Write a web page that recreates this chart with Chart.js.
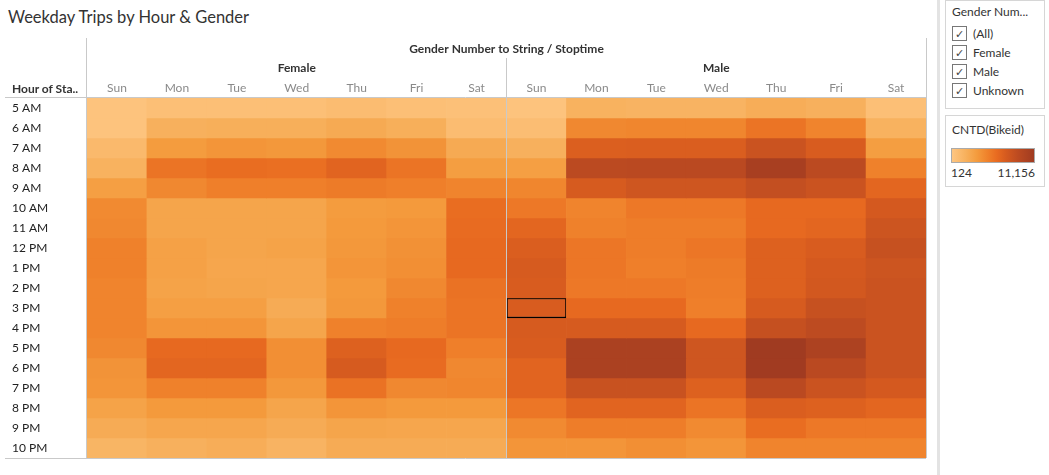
<!DOCTYPE html>
<html>
<head>
<meta charset="utf-8">
<script src="https://cdn.jsdelivr.net/npm/chart.js@4.4.1/dist/chart.umd.min.js"></script>
<style>
body{margin:0;width:1049px;height:475px;overflow:hidden;background:#fff;font-family:Lato,"Open Sans",sans-serif;color:#333;position:relative}
#title{position:absolute;left:8px;top:7px;font-size:16.5px;color:#333}
#wrap{position:absolute;left:0;top:0;width:935px;height:475px}
#hourHead{position:absolute;left:12px;top:81px;font-size:12px;font-weight:bold;color:#333}
#sep{position:absolute;left:937px;top:0;width:3px;height:475px;background:#e3e3e3}
.box{position:absolute;left:945px;width:98px;border:1px solid #d6d6d6;background:#fff;font-size:12px}
.box .hd{padding:3px 0 0 6px;height:20px;color:#333}
.chk{height:19px;display:flex;align-items:center;padding-left:6px}
.chk span.b{display:inline-block;width:13px;height:13px;border:1px solid #777;font-size:11px;line-height:13px;text-align:center;margin-right:6px;color:#444}
#grad{margin:6px 0 0 5px;width:82px;height:13px;border:1px solid #aaa}
#legLab{display:flex;justify-content:space-between;width:84px;margin-left:5px;font-size:12px;margin-top:2px}
</style>
</head>
<body>
<div id="title">Weekday Trips by Hour &amp; Gender</div>
<div id="wrap"><canvas id="c"></canvas></div>
<div id="hourHead">Hour of Sta..</div>
<div id="sep"></div>
<div class="box" style="top:0;height:107px">
  <div class="hd">Gender Num...</div>
  <div id="filters"></div>
</div>
<div class="box" style="top:115px;height:70px">
  <div class="hd" style="padding-top:6px">CNTD(Bikeid)</div>
  <div id="grad"></div>
  <div id="legLab"><span id="lmin"></span><span id="lmax"></span></div>
</div>
<script>
const hours = ['5 AM','6 AM','7 AM','8 AM','9 AM','10 AM','11 AM','12 PM','1 PM','2 PM','3 PM','4 PM','5 PM','6 PM','7 PM','8 PM','9 PM','10 PM']
const days = ['Sun','Mon','Tue','Wed','Thu','Fri','Sat']
const genders = ['Female','Male']
const filterItems = ['(All)','Female','Male','Unknown']

// distinct bikes per hour, Sun..Sat
const femaleTrips = [
	[370, 740, 740, 740, 980, 740, 610],
	[370, 1960, 2090, 2090, 2450, 2090, 980],
	[1230, 3430, 3800, 3680, 4410, 3920, 2450],
	[1840, 5640, 6010, 5890, 6620, 5640, 3310],
	[3190, 4540, 5030, 5030, 5270, 5030, 4780],
	[4410, 2820, 2820, 2820, 3430, 3560, 6010],
	[4540, 2820, 2820, 2820, 3560, 3800, 6130],
	[4900, 3070, 2820, 2940, 3680, 4050, 6250],
	[4900, 3070, 2700, 2700, 3800, 4170, 6250],
	[4780, 2940, 2820, 2700, 3560, 4540, 5760],
	[4780, 3190, 3190, 2330, 3680, 4900, 5640],
	[4780, 3800, 3800, 2820, 4900, 5150, 5640],
	[4540, 6250, 6250, 4170, 6870, 6250, 5030],
	[3920, 6500, 6500, 4170, 7360, 6130, 4540],
	[3800, 4900, 4900, 3680, 5760, 4540, 4660],
	[2940, 3560, 3560, 2820, 3800, 3560, 3560],
	[2330, 2700, 2700, 2330, 2820, 2700, 2700],
	[1600, 1960, 2210, 1720, 2330, 2330, 2330],
]
const maleTrips = [
	[370, 1840, 1720, 1720, 2210, 1960, 740],
	[860, 4540, 4660, 4660, 5640, 4780, 1840],
	[1960, 6990, 7110, 7110, 8090, 7230, 3310],
	[3190, 9070, 9200, 9200, 10540, 9070, 4900],
	[4660, 7360, 7850, 7850, 8580, 8090, 6500],
	[5400, 4780, 5400, 5400, 6250, 6250, 7480],
	[6500, 4900, 5150, 5150, 6250, 6500, 7970],
	[7110, 5520, 5150, 5520, 6870, 7230, 8340],
	[7360, 5520, 5030, 5270, 6870, 7480, 7970],
	[7230, 5400, 5400, 5150, 6870, 7600, 8090],
	[7230, 6250, 6250, 5030, 7360, 8340, 8090],
	[7360, 7360, 7360, 6250, 8460, 8950, 8090],
	[7230, 10300, 10300, 7850, 11156, 10180, 8090],
	[6620, 10300, 10300, 7850, 11100, 9200, 8090],
	[6620, 8210, 8210, 6870, 9200, 8090, 7480],
	[5520, 6620, 6620, 5640, 7110, 6870, 6500],
	[4410, 5150, 5150, 4410, 6010, 5400, 5400],
	[3800, 3800, 4170, 3800, 4780, 4780, 4780],
]
const legendMin = 124
const legendMax = 11156
const selected = { gender: 'Male', day: 'Sun', hour: '3 PM' }

const stops = [
	[0, [254, 198, 130]],
	[0.17, [247, 176, 92]],
	[0.3, [244, 156, 62]],
	[0.44, [239, 128, 42]],
	[0.55, [232, 106, 32]],
	[0.66, [213, 90, 31]],
	[0.8, [189, 75, 33]],
	[1, [160, 59, 33]],
]

function countColor(v) {
	const t = Math.max(0, Math.min(1, (v - legendMin) / (legendMax - legendMin)))
	let i = 0
	while (i < stops.length - 2 && t > stops[i + 1][0]) i++
	const [t0, c0] = stops[i]
	const [t1, c1] = stops[i + 1]
	const f = (t - t0) / (t1 - t0)
	const c = c0.map((a, k) => Math.round(a + (c1[k] - a) * f))
	return `rgb(${c[0]},${c[1]},${c[2]})`
}

// side panel
document.getElementById('filters').innerHTML = filterItems
	.map((f) => `<div class="chk"><span class="b">✓</span>${f}</div>`)
	.join('')
document.getElementById('grad').style.background =
	'linear-gradient(to right,' + stops.map(([t]) => countColor(legendMin + t * (legendMax - legendMin)) + ' ' + t * 100 + '%').join(',') + ')'
document.getElementById('lmin').textContent = legendMin.toLocaleString('en-US')
document.getElementById('lmax').textContent = legendMax.toLocaleString('en-US')

const columns = genders.flatMap((g) => days.map((d) => ({ g, d })))

const datasets = hours.map((h, i) => {
	const row = femaleTrips[i].concat(maleTrips[i])
	return {
		label: h,
		data: row.map(() => 1),
		backgroundColor: row.map(countColor),
		borderColor: '#000',
		borderWidth: row.map((_, j) =>
			h === selected.hour && columns[j].g === selected.gender && columns[j].d === selected.day ? 1.5 : 0),
		borderSkipped: false,
	}
})

const framePlugin = {
	id: 'frame',
	afterDatasetsDraw(chart) {
		const { ctx, chartArea: a, scales } = chart
		const px = (v) => Math.round(v) - 0.5
		const mid = (scales.x.getPixelForValue(6) + scales.x.getPixelForValue(7)) / 2
		const top = scales.gender.top
		ctx.save()
		ctx.strokeStyle = '#c9c9c9'
		ctx.lineWidth = 1
		const line = (x1, y1, x2, y2) => {
			ctx.beginPath()
			ctx.moveTo(x1, y1)
			ctx.lineTo(x2, y2)
			ctx.stroke()
		}
		line(px(a.left), top, px(a.left), a.bottom)
		line(px(a.right) + 1, top, px(a.right) + 1, a.bottom)
		line(px(mid), top + 20, px(mid), a.bottom)
		line(5, px(a.top), a.right, px(a.top))
		line(5, px(a.bottom) + 1, a.right, px(a.bottom) + 1)
		ctx.restore()
	},
}

const font = { family: 'Lato, "Open Sans", sans-serif', size: 12 }
const noGrid = { display: false, drawTicks: false, tickLength: 0 }

new Chart(document.getElementById('c'), {
	type: 'bar',
	data: { labels: columns.map((c) => c.d), datasets },
	options: {
		responsive: true,
		maintainAspectRatio: false,
		animation: false,
		layout: { padding: { left: 12, top: 38, right: 9, bottom: 17 } },
		plugins: { legend: { display: false }, tooltip: { enabled: false } },
		datasets: { bar: { barPercentage: 1, categoryPercentage: 1 } },
		scales: {
			x: {
				position: 'top',
				stacked: true,
				grid: noGrid,
				border: { display: false },
				ticks: { color: '#8a8a8a', font, padding: 3, maxRotation: 0, autoSkip: false },
				afterFit: (s) => { s.height = 20 },
			},
			gender: {
				type: 'category',
				labels: genders,
				position: 'top',
				offset: true,
				weight: 1,
				grid: noGrid,
				border: { display: false },
				ticks: { color: '#333', font: { ...font, weight: 'bold' }, padding: 3 },
				title: { display: true, text: 'Gender Number to String / Stoptime', color: '#333', font: { ...font, weight: 'bold' }, padding: { top: 4, bottom: 0 } },
				afterFit: (s) => { s.height = 40 },
			},
			y: {
				display: false,
				stacked: true,
				reverse: true,
				min: 0,
				max: hours.length,
			},
			hours: {
				type: 'category',
				labels: hours,
				position: 'left',
				offset: true,
				grid: noGrid,
				border: { display: false },
				ticks: { color: '#222', font, crossAlign: 'far', autoSkip: false },
				afterFit: (s) => { s.width = 75 },
			},
		},
	},
	plugins: [framePlugin],
})
</script>
</body>
</html>
